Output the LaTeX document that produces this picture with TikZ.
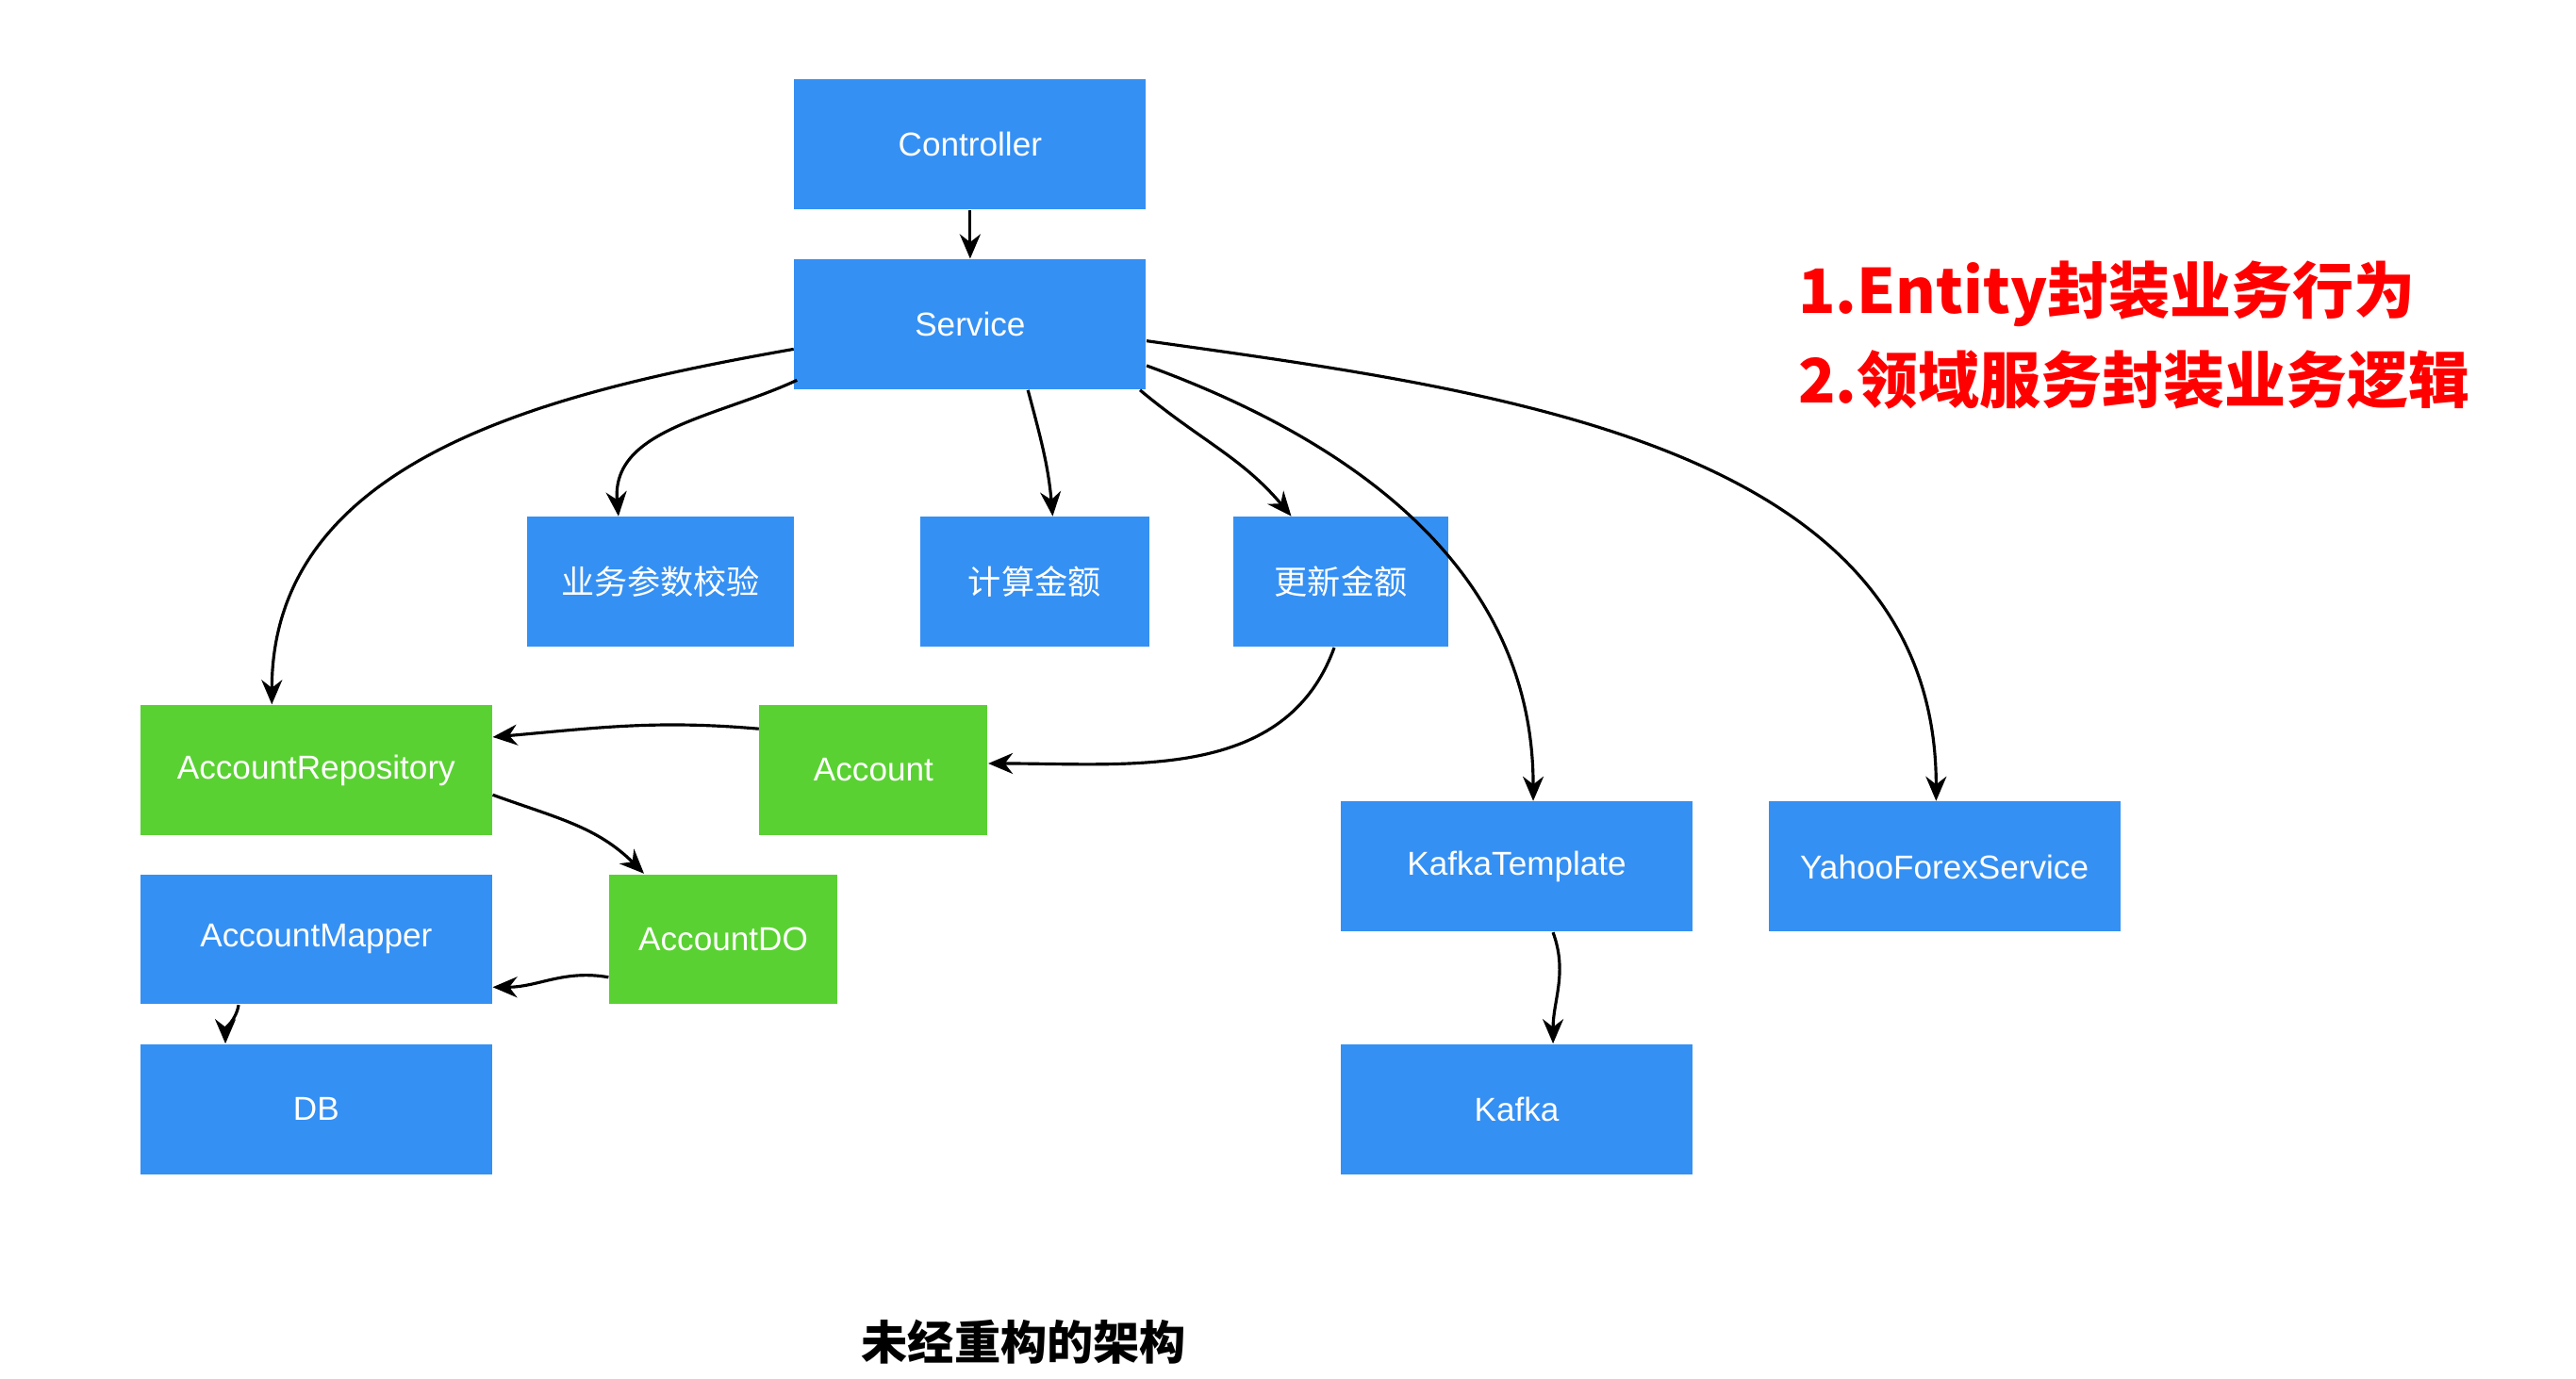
\documentclass[tikz,border=0pt]{standalone}
\usepackage{fontspec}
\setmainfont{Liberation Sans}
\newfontfamily\cjk{Noto Sans CJK SC}
\usetikzlibrary{arrows.meta,calc}
\definecolor{boxblue}{HTML}{3590F3}
\definecolor{boxgreen}{HTML}{5AD133}
\tikzset{
  box/.style={fill=boxblue, text=white, minimum height=1.38cm, font=\fontsize{10}{12}\selectfont, inner sep=0pt},
  gbox/.style={box, fill=boxgreen},
  link/.style={-{Stealth[length=2.6mm,width=2.2mm]}, line width=0.9pt}
}
\begin{document}
\begin{tikzpicture}[x=0.01751cm, y=-0.01751cm]
    \useasboundingbox (0,0) rectangle (1560,835);

    % Top layer
    \node[box, minimum width=3.73cm] (ctrl) at (587.5, 87.5) {Controller};
    \node[box, minimum width=3.73cm] (svc) at (587.5, 196.5) {Service};

    % Service steps
    \node[box, minimum width=2.84cm] (check) at (400, 352.5) {\cjk 业务参数校验};
    \node[box, minimum width=2.43cm] (calc) at (626.5, 352.5) {\cjk 计算金额};
    \node[box, minimum width=2.28cm] (upd) at (812, 352.5) {\cjk 更新金额};

    % Persistence
    \node[gbox, minimum width=3.73cm] (repo) at (191.5, 466.5) {AccountRepository};
    \node[gbox, minimum width=2.42cm] (acct) at (529, 466.5) {Account};
    \node[box, minimum width=3.73cm] (mapper) at (191.5, 569) {AccountMapper};
    \node[gbox, minimum width=2.42cm] (acctdo) at (438, 569) {AccountDO};
    \node[box, minimum width=3.73cm] (db) at (191.5, 672) {DB};

    % External
    \node[box, minimum width=3.73cm] (ktpl) at (918.5, 525) {KafkaTemplate};
    \node[box, minimum width=3.73cm] (yahoo) at (1177.5, 525) {YahooForexService};
    \node[box, minimum width=3.73cm] (kafka) at (918.5, 672) {Kafka};

    % Connectors
    \draw[link] (ctrl) -- (svc);
    \draw[link] ($(svc.west)+(0,15)$) to[out=190, in=90] ($(repo.north west)+(80,0)$);
    \draw[link] ($(svc.south west)+(2,-6)$) to[out=205, in=95] ($(check.north west)+(56,0)$);
    \draw[link] ($(svc.south)+(35,0)$) to[out=-75, in=95] ($(calc.north)+(11,0)$);
    \draw[link] ($(svc.south east)+(-4,0)$) to[out=-40, in=130] ($(upd.north)+(-30,0)$);
    \draw[link] ($(svc.east)+(0,25)$) to[out=-20, in=90] ($(ktpl.north)+(10,0)$);
    \draw[link] ($(svc.east)+(0,10)$) to[out=-8, in=90] ($(yahoo.north)+(-5,0)$);
    \draw[link] ($(upd.south)+(-4,0)$) to[out=-110, in=0] ($(acct.east)+(0,-4)$);
    \draw[link] ($(acct.west)+(0,-25)$) to[out=175, in=5] ($(repo.east)+(0,-20)$);
    \draw[link] ($(repo.east)+(0,15)$) to[out=-20, in=135] ($(acctdo.north)+(-48,0)$);
    \draw[link] ($(acctdo.west)+(0,23)$) to[out=170, in=0] ($(mapper.east)+(0,29)$);
    \draw[link] ($(mapper.south)+(-47,0)$) to[out=-100, in=90] ($(db.north)+(-55,0)$);
    \draw[link] ($(ktpl.south)+(22,0)$) to[out=-70, in=90] ($(kafka.north)+(22,0)$);

    % Notes
    \node[anchor=west, text=red, font=\fontsize{18.5}{22}\selectfont\bfseries\cjk] (note1) at (1082, 178) {1.Entity封装业务行为};
    \node[anchor=west, text=red, font=\fontsize{18.5}{22}\selectfont\bfseries\cjk] (note2) at (1082, 230) {2.领域服务封装业务逻辑};
    \node[font=\fontsize{14}{16}\selectfont\bfseries\cjk] (caption) at (620, 813) {未经重构的架构};
\end{tikzpicture}
\end{document}
